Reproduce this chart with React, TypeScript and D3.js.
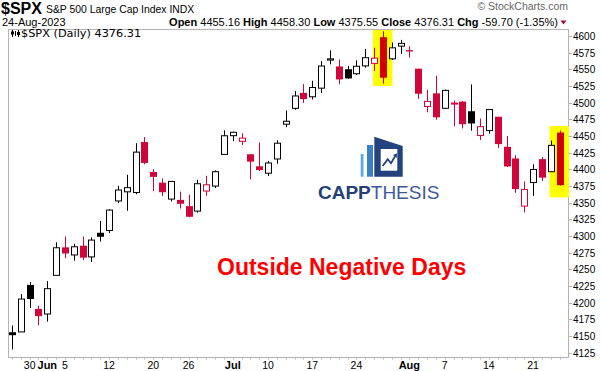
import React from "react";
import * as d3 from "d3";

// daily SPX candles, 25-May-2023 .. 24-Aug-2023
const dates = [
  "2023-05-25", "2023-05-26", "2023-05-30", "2023-05-31",
  "2023-06-01", "2023-06-02", "2023-06-05", "2023-06-06", "2023-06-07", "2023-06-08", "2023-06-09",
  "2023-06-12", "2023-06-13", "2023-06-14", "2023-06-15", "2023-06-16",
  "2023-06-20", "2023-06-21", "2023-06-22", "2023-06-23",
  "2023-06-26", "2023-06-27", "2023-06-28", "2023-06-29", "2023-06-30",
  "2023-07-03", "2023-07-05", "2023-07-06", "2023-07-07",
  "2023-07-10", "2023-07-11", "2023-07-12", "2023-07-13", "2023-07-14",
  "2023-07-17", "2023-07-18", "2023-07-19", "2023-07-20", "2023-07-21",
  "2023-07-24", "2023-07-25", "2023-07-26", "2023-07-27", "2023-07-28",
  "2023-07-31", "2023-08-01", "2023-08-02", "2023-08-03", "2023-08-04",
  "2023-08-07", "2023-08-08", "2023-08-09", "2023-08-10", "2023-08-11",
  "2023-08-14", "2023-08-15", "2023-08-16", "2023-08-17", "2023-08-18",
  "2023-08-21", "2023-08-22", "2023-08-23", "2023-08-24",
];
const opens = [
  4155.71, 4156.16, 4226.71, 4190.74,
  4183.03, 4241.01, 4282.99, 4271.61, 4285.47, 4268.69, 4304.88,
  4308.32, 4352.61, 4366.29, 4365.33, 4440.95,
  4396.11, 4380.01, 4355.40, 4354.17,
  4344.84, 4337.36, 4367.48, 4374.94, 4422.44,
  4450.48, 4442.04, 4422.62, 4404.54,
  4394.23, 4415.55, 4467.69, 4491.50, 4514.61,
  4508.86, 4521.78, 4563.87, 4554.38, 4550.16,
  4543.39, 4555.19, 4558.96, 4598.26, 4565.75,
  4584.82, 4578.83, 4550.93, 4494.27, 4513.96,
  4491.58, 4498.03, 4501.57, 4487.16, 4450.69,
  4458.13, 4478.87, 4433.79, 4416.32, 4344.88,
  4380.28, 4415.33, 4396.44, 4455.16,
];
const highs = [
  4165.74, 4212.87, 4231.10, 4195.44,
  4232.43, 4290.67, 4299.28, 4288.33, 4299.19, 4298.01, 4322.62,
  4340.13, 4375.37, 4391.82, 4439.20, 4448.47,
  4400.15, 4386.22, 4382.25, 4366.55,
  4362.06, 4384.42, 4390.35, 4398.39, 4458.48,
  4456.46, 4454.06, 4422.62, 4440.39,
  4412.60, 4443.64, 4488.34, 4517.38, 4527.76,
  4532.85, 4562.30, 4578.43, 4564.74, 4555.00,
  4563.41, 4580.62, 4582.47, 4607.07, 4590.16,
  4594.22, 4584.62, 4550.93, 4519.49, 4540.34,
  4519.84, 4503.31, 4502.44, 4527.37, 4476.23,
  4490.33, 4478.87, 4449.95, 4421.17, 4381.82,
  4407.55, 4418.59, 4443.18, 4458.30,
];
const lows = [
  4129.73, 4156.16, 4192.18, 4166.15,
  4171.64, 4241.01, 4266.82, 4263.09, 4263.96, 4261.07, 4291.70,
  4304.37, 4349.31, 4337.85, 4362.60, 4407.44,
  4367.19, 4360.14, 4351.82, 4341.34,
  4328.08, 4335.00, 4360.22, 4371.97, 4422.44,
  4442.29, 4436.61, 4385.05, 4397.40,
  4389.92, 4408.46, 4463.23, 4489.36, 4499.56,
  4504.90, 4514.59, 4557.48, 4527.56, 4535.79,
  4541.29, 4552.42, 4547.58, 4528.56, 4564.01,
  4573.14, 4567.53, 4505.75, 4485.54, 4474.55,
  4491.15, 4464.39, 4461.33, 4457.92, 4443.98,
  4453.44, 4432.19, 4403.55, 4364.83, 4335.31,
  4360.30, 4382.77, 4396.44, 4375.55,
];
const closes = [
  4151.28, 4205.45, 4205.52, 4179.83,
  4221.02, 4282.37, 4273.79, 4283.85, 4267.52, 4293.93, 4298.86,
  4338.93, 4369.01, 4372.59, 4425.84, 4409.59,
  4388.71, 4365.69, 4381.89, 4348.33,
  4328.82, 4378.41, 4376.86, 4396.44, 4450.38,
  4455.59, 4446.82, 4411.59, 4398.95,
  4409.53, 4439.26, 4472.16, 4510.04, 4505.42,
  4522.79, 4554.98, 4565.72, 4534.87, 4536.34,
  4554.64, 4567.46, 4566.75, 4537.41, 4582.23,
  4588.96, 4576.73, 4513.39, 4501.89, 4478.03,
  4518.44, 4499.38, 4467.71, 4468.83, 4464.05,
  4489.72, 4437.86, 4404.33, 4370.36, 4369.71,
  4399.77, 4387.55, 4436.01, 4376.31,
];
const prevClose = 4115.24; // close of 24-May

const yTicks = [4125, 4150, 4175, 4200, 4225, 4250, 4275, 4300, 4325, 4350, 4375, 4400, 4425, 4450, 4475, 4500, 4525, 4550, 4575, 4600];

const labelDates = ["2023-05-30", "2023-06-01", "2023-06-05", "2023-06-12", "2023-06-20", "2023-06-26", "2023-07-03", "2023-07-10", "2023-07-17", "2023-07-24", "2023-08-01", "2023-08-07", "2023-08-14", "2023-08-21"];
const labelTexts = ["30", "Jun", "5", "12", "20", "26", "Jul", "10", "17", "24", "Aug", "7", "14", "21"];

// the two outside negative days, highlighted
const highlightDates = ["2023-07-27", "2023-08-24"];
const highlightTop = [4609, 4465];
const highlightBottom = [4525, 4358];

const W = 602;
const H = 371;
const plot = { left: 8, right: 568, top: 30, bottom: 357 };

const RED = "#d0063a";
const HILITE_RED = "#d40000";
const AXIS_GREY = "#b4b4b4";
const SANS = "'Liberation Sans', Arial, sans-serif";

export default function App() {
  const x = d3.scalePoint<string>().domain(dates).range([12, 559.5]);
  const y = d3.scaleLinear().domain([4125, 4600]).range([352.7, 36]);

  const candles = dates.map((d, i) => {
    const prev = i === 0 ? prevClose : closes[i - 1];
    const o = opens[i], c = closes[i];
    const hi = highlightDates.includes(d);
    return {
      d,
      cx: Math.round(x(d)!) + 0.5,
      o, c, h: highs[i], l: lows[i],
      color: hi ? HILITE_RED : c < prev ? RED : "#000",
      hollow: c > o,
    };
  });

  const greyTickDates = dates;

  return (
    <svg width={W} height={H} style={{ position: "absolute", left: 0, top: 0, background: "#fff" }} fontFamily={SANS}>
      <rect width={W} height={H} fill="#fff" />

      {/* header */}
      <text x={1} y={14} fontSize={16} fontWeight="bold">$SPX</text>
      <text x={46} y={13} fontSize={10.4}>S&amp;P 500 Large Cap Index INDX</text>
      <text x={568} y={10} fontSize={10.5} fill="#666" textAnchor="end">© StockCharts.com</text>
      <text x={2} y={26} fontSize={11}>24-Aug-2023</text>
      <text x={558} y={26} fontSize={11} textAnchor="end">
        <tspan fontWeight="bold">Open</tspan> 4455.16 <tspan fontWeight="bold"> High</tspan> 4458.30 <tspan fontWeight="bold"> Low</tspan> 4375.55 <tspan fontWeight="bold"> Close</tspan> 4376.31 <tspan fontWeight="bold"> Chg</tspan> -59.70 (-1.35%)
      </text>
      <path d="M560.5,20.5 L566.5,20.5 L563.5,24.5 Z" fill="#a00f2c" />

      {/* frame */}
      <rect x={plot.left + 0.5} y={plot.top - 0.5} width={plot.right - plot.left} height={plot.bottom - plot.top + 1} fill="none" stroke={AXIS_GREY} />

      {/* legend */}
      <g stroke="#000" strokeWidth={1}>
        <line x1={12.5} y1={30} x2={12.5} y2={37} />
        <line x1={15.5} y1={31} x2={15.5} y2={36} />
        <line x1={18.5} y1={30} x2={18.5} y2={37} />
      </g>
      <rect x={11} y={31.5} width={3} height={3} fill="#000" />
      <rect x={17} y={32} width={3} height={3} fill="#000" />
      <text x={21} y={37} fontSize={11.3} fontFamily="'DejaVu Sans', Verdana, sans-serif">$SPX (Daily) 4376.31</text>

      {/* logo */}
      <g>
        <rect x={360.7} y={154} width={2.8} height={22.7} fill="#5aa8e0" />
        <rect x={367} y={145} width={6} height={31.7} fill="#3b7fc4" />
        <path d="M374.3,136.7 L402.7,146 L402.7,176.7 L374.3,176.7 Z" fill="#24437e" />
        <rect x={380.7} y={149} width={16.6} height={21.7} fill="#fff" />
        <polyline points="382.7,166 387.7,159.3 391,163.3 395.2,156" fill="none" stroke="#24437e" strokeWidth={1.8} />
        <path d="M393,155 L397,153.3 L396.8,158 Z" fill="#24437e" />
        <text x={318} y={198.5} fontSize={19}>
          <tspan fill="#243f78" fontWeight="bold">CAPP</tspan>
          <tspan fill="#3c5a9a">THESIS</tspan>
        </text>
      </g>

      <text x={217} y={275} fontSize={23} fontWeight="bold" fill="#ff0000">Outside Negative Days</text>

      {/* highlight boxes */}
      {highlightDates.map((d, i) => {
        const cx = x(d)!;
        return (
          <rect key={d} x={cx - 10} y={y(highlightTop[i])} width={19.5} height={y(highlightBottom[i]) - y(highlightTop[i])} fill="#ffff00" />
        );
      })}

      {/* candles */}
      {candles.map((k) => {
        const top = y(Math.max(k.o, k.c));
        const bot = y(Math.min(k.o, k.c));
        const bh = Math.max(1, bot - top);
        return (
          <g key={k.d}>
            <line x1={k.cx} x2={k.cx} y1={y(k.h)} y2={y(k.l)} stroke={k.color} strokeWidth={1} />
            {k.hollow ? (
              <rect x={k.cx - 3} y={top} width={6} height={bh} fill="#fff" stroke={k.color} strokeWidth={1} />
            ) : (
              <rect x={k.cx - 3.5} y={top} width={7} height={bh} fill={k.color} />
            )}
          </g>
        );
      })}

      {/* right axis */}
      {yTicks.map((t) => {
        const yy = Math.round(y(t)) + 0.5;
        return (
          <g key={t}>
            <line x1={plot.right + 0.5} x2={plot.right + 4} y1={yy} y2={yy} stroke={AXIS_GREY} />
            <text x={573} y={yy + 3.6} fontSize={10} fill="#000">{t}</text>
          </g>
        );
      })}

      {/* bottom axis */}
      {greyTickDates.map((d) => {
        const xx = Math.round(x(d)!) + 0.5;
        return <line key={d} x1={xx} x2={xx} y1={plot.bottom} y2={plot.bottom + 2.5} stroke={AXIS_GREY} />;
      })}
      {labelDates.map((d, i) => {
        const bold = isNaN(Number(labelTexts[i]));
        return (
          <text key={d} x={x(d)!} y={368.5} fontSize={bold ? 11 : 10.5} fontWeight={bold ? "bold" : "normal"} textAnchor="middle">
            {labelTexts[i]}
          </text>
        );
      })}
    </svg>
  );
}
